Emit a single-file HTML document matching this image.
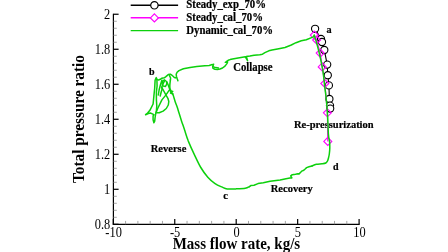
<!DOCTYPE html>
<html><head><meta charset="utf-8"><style>
html,body{margin:0;padding:0;background:#fff;}
body{width:448px;height:252px;overflow:hidden;}
svg{display:block;}
text{font-family:"Liberation Serif","Times New Roman",serif;}
.tl{font-size:12.4px;fill:#000;}
.at{font-size:15px;font-weight:bold;fill:#000;}
.an{font-size:11px;font-weight:bold;fill:#000;stroke:#000;stroke-width:0.2px;}
.lg{font-size:10.8px;font-weight:bold;fill:#000;stroke:#000;stroke-width:0.2px;}
</style></head><body>
<svg width="448" height="252" viewBox="0 0 448 252">
<line x1="113.4" y1="13.7" x2="113.4" y2="224.9" stroke="#000" stroke-width="1.2"/>
<line x1="112.8" y1="224.3" x2="359.7" y2="224.3" stroke="#000" stroke-width="1.2"/>
<line x1="113.4" y1="224.30" x2="118.60" y2="224.30" stroke="#000" stroke-width="1.2"/>
<line x1="113.4" y1="217.30" x2="116.80" y2="217.30" stroke="#888" stroke-width="0.75"/>
<line x1="113.4" y1="210.29" x2="116.80" y2="210.29" stroke="#888" stroke-width="0.75"/>
<line x1="113.4" y1="203.29" x2="116.80" y2="203.29" stroke="#888" stroke-width="0.75"/>
<line x1="113.4" y1="196.29" x2="116.80" y2="196.29" stroke="#888" stroke-width="0.75"/>
<line x1="113.4" y1="189.29" x2="118.60" y2="189.29" stroke="#000" stroke-width="1.2"/>
<line x1="113.4" y1="182.29" x2="116.80" y2="182.29" stroke="#888" stroke-width="0.75"/>
<line x1="113.4" y1="175.29" x2="116.80" y2="175.29" stroke="#888" stroke-width="0.75"/>
<line x1="113.4" y1="168.29" x2="116.80" y2="168.29" stroke="#888" stroke-width="0.75"/>
<line x1="113.4" y1="161.28" x2="116.80" y2="161.28" stroke="#888" stroke-width="0.75"/>
<line x1="113.4" y1="154.28" x2="118.60" y2="154.28" stroke="#000" stroke-width="1.2"/>
<line x1="113.4" y1="147.28" x2="116.80" y2="147.28" stroke="#888" stroke-width="0.75"/>
<line x1="113.4" y1="140.28" x2="116.80" y2="140.28" stroke="#888" stroke-width="0.75"/>
<line x1="113.4" y1="133.28" x2="116.80" y2="133.28" stroke="#888" stroke-width="0.75"/>
<line x1="113.4" y1="126.28" x2="116.80" y2="126.28" stroke="#888" stroke-width="0.75"/>
<line x1="113.4" y1="119.27" x2="118.60" y2="119.27" stroke="#000" stroke-width="1.2"/>
<line x1="113.4" y1="112.27" x2="116.80" y2="112.27" stroke="#888" stroke-width="0.75"/>
<line x1="113.4" y1="105.27" x2="116.80" y2="105.27" stroke="#888" stroke-width="0.75"/>
<line x1="113.4" y1="98.27" x2="116.80" y2="98.27" stroke="#888" stroke-width="0.75"/>
<line x1="113.4" y1="91.27" x2="116.80" y2="91.27" stroke="#888" stroke-width="0.75"/>
<line x1="113.4" y1="84.27" x2="118.60" y2="84.27" stroke="#000" stroke-width="1.2"/>
<line x1="113.4" y1="77.26" x2="116.80" y2="77.26" stroke="#888" stroke-width="0.75"/>
<line x1="113.4" y1="70.26" x2="116.80" y2="70.26" stroke="#888" stroke-width="0.75"/>
<line x1="113.4" y1="63.26" x2="116.80" y2="63.26" stroke="#888" stroke-width="0.75"/>
<line x1="113.4" y1="56.26" x2="116.80" y2="56.26" stroke="#888" stroke-width="0.75"/>
<line x1="113.4" y1="49.26" x2="118.60" y2="49.26" stroke="#000" stroke-width="1.2"/>
<line x1="113.4" y1="42.26" x2="116.80" y2="42.26" stroke="#888" stroke-width="0.75"/>
<line x1="113.4" y1="35.25" x2="116.80" y2="35.25" stroke="#888" stroke-width="0.75"/>
<line x1="113.4" y1="28.25" x2="116.80" y2="28.25" stroke="#888" stroke-width="0.75"/>
<line x1="113.4" y1="21.25" x2="116.80" y2="21.25" stroke="#888" stroke-width="0.75"/>
<line x1="113.4" y1="14.25" x2="118.60" y2="14.25" stroke="#000" stroke-width="1.2"/>
<line x1="113.30" y1="224.3" x2="113.30" y2="219.10" stroke="#000" stroke-width="1.2"/>
<line x1="125.59" y1="224.3" x2="125.59" y2="220.90" stroke="#888" stroke-width="0.75"/>
<line x1="137.88" y1="224.3" x2="137.88" y2="220.90" stroke="#888" stroke-width="0.75"/>
<line x1="150.17" y1="224.3" x2="150.17" y2="220.90" stroke="#888" stroke-width="0.75"/>
<line x1="162.46" y1="224.3" x2="162.46" y2="220.90" stroke="#888" stroke-width="0.75"/>
<line x1="174.75" y1="224.3" x2="174.75" y2="219.10" stroke="#000" stroke-width="1.2"/>
<line x1="187.04" y1="224.3" x2="187.04" y2="220.90" stroke="#888" stroke-width="0.75"/>
<line x1="199.33" y1="224.3" x2="199.33" y2="220.90" stroke="#888" stroke-width="0.75"/>
<line x1="211.62" y1="224.3" x2="211.62" y2="220.90" stroke="#888" stroke-width="0.75"/>
<line x1="223.91" y1="224.3" x2="223.91" y2="220.90" stroke="#888" stroke-width="0.75"/>
<line x1="236.20" y1="224.3" x2="236.20" y2="219.10" stroke="#000" stroke-width="1.2"/>
<line x1="248.49" y1="224.3" x2="248.49" y2="220.90" stroke="#888" stroke-width="0.75"/>
<line x1="260.78" y1="224.3" x2="260.78" y2="220.90" stroke="#888" stroke-width="0.75"/>
<line x1="273.07" y1="224.3" x2="273.07" y2="220.90" stroke="#888" stroke-width="0.75"/>
<line x1="285.36" y1="224.3" x2="285.36" y2="220.90" stroke="#888" stroke-width="0.75"/>
<line x1="297.65" y1="224.3" x2="297.65" y2="219.10" stroke="#000" stroke-width="1.2"/>
<line x1="309.94" y1="224.3" x2="309.94" y2="220.90" stroke="#888" stroke-width="0.75"/>
<line x1="322.23" y1="224.3" x2="322.23" y2="220.90" stroke="#888" stroke-width="0.75"/>
<line x1="334.52" y1="224.3" x2="334.52" y2="220.90" stroke="#888" stroke-width="0.75"/>
<line x1="346.81" y1="224.3" x2="346.81" y2="220.90" stroke="#888" stroke-width="0.75"/>
<line x1="359.10" y1="224.3" x2="359.10" y2="219.10" stroke="#000" stroke-width="1.2"/>
<text transform="translate(110.3,18.55) scale(1,1.12)" text-anchor="end" class="tl">2</text>
<text transform="translate(110.3,53.56) scale(1,1.12)" text-anchor="end" class="tl">1.8</text>
<text transform="translate(110.3,88.57) scale(1,1.12)" text-anchor="end" class="tl">1.6</text>
<text transform="translate(110.3,123.57) scale(1,1.12)" text-anchor="end" class="tl">1.4</text>
<text transform="translate(110.3,158.58) scale(1,1.12)" text-anchor="end" class="tl">1.2</text>
<text transform="translate(110.3,193.59) scale(1,1.12)" text-anchor="end" class="tl">1</text>
<text transform="translate(110.3,228.60) scale(1,1.12)" text-anchor="end" class="tl">0.8</text>
<text transform="translate(113.60,236.6) scale(1,1.12)" text-anchor="middle" class="tl">-10</text>
<text transform="translate(175.05,236.6) scale(1,1.12)" text-anchor="middle" class="tl">-5</text>
<text transform="translate(236.50,236.6) scale(1,1.12)" text-anchor="middle" class="tl">0</text>
<text transform="translate(297.95,236.6) scale(1,1.12)" text-anchor="middle" class="tl">5</text>
<text transform="translate(359.40,236.6) scale(1,1.12)" text-anchor="middle" class="tl">10</text>
<text transform="translate(236.4,248.9) scale(1,1.08)" text-anchor="middle" class="at">Mass flow rate, kg/s</text>
<text transform="translate(83.7,119.0) rotate(-90) scale(1,1.07)" text-anchor="middle" class="at" style="font-size:15.3px">Total pressure ratio</text>
<text transform="translate(150.8,152.0) scale(1,1.07)" class="an" style="font-size:10.5px">Reverse</text>
<text transform="translate(233.3,70.6) scale(1,1.07)" class="an" style="font-size:10.7px">Collapse</text>
<text transform="translate(270.8,191.8) scale(1,1.07)" class="an" style="font-size:10.5px">Recovery</text>
<text transform="translate(294.0,128.4) scale(1,1.07)" class="an" style="font-size:10.5px">Re-pressurization</text>
<text transform="translate(149.0,74.8) scale(1,1.07)" class="an" style="font-size:10px">b</text>
<text transform="translate(326.6,32.7) scale(1,1.07)" class="an" style="font-size:10.2px">a</text>
<text transform="translate(223.2,199.1) scale(1,1.07)" class="an" style="font-size:10.4px">c</text>
<text transform="translate(333.0,170.0) scale(1,1.07)" class="an" style="font-size:10px">d</text>
<polyline points="315.1,28.8 321.0,39.0 322.0,42.0 324.3,50.0 327.2,64.6 327.8,75.2 328.9,85.4 329.4,99.0 330.0,105.6 330.2,108.6" fill="none" stroke="#000" stroke-width="1.1"/>
<circle cx="315.1" cy="28.8" r="3.6" fill="#fff" stroke="#000" stroke-width="1.1"/>
<circle cx="321.0" cy="39.0" r="3.6" fill="#fff" stroke="#000" stroke-width="1.1"/>
<circle cx="322.0" cy="42.0" r="3.6" fill="#fff" stroke="#000" stroke-width="1.1"/>
<circle cx="324.3" cy="50.0" r="3.6" fill="#fff" stroke="#000" stroke-width="1.1"/>
<circle cx="327.2" cy="64.6" r="3.6" fill="#fff" stroke="#000" stroke-width="1.1"/>
<circle cx="327.8" cy="75.2" r="3.6" fill="#fff" stroke="#000" stroke-width="1.1"/>
<circle cx="328.9" cy="85.4" r="3.6" fill="#fff" stroke="#000" stroke-width="1.1"/>
<circle cx="329.4" cy="99.0" r="3.6" fill="#fff" stroke="#000" stroke-width="1.1"/>
<circle cx="330.0" cy="105.6" r="3.6" fill="#fff" stroke="#000" stroke-width="1.1"/>
<circle cx="330.2" cy="108.6" r="3.6" fill="#fff" stroke="#000" stroke-width="1.1"/>
<polyline points="314.3,35.1 316.6,40.0 320.2,53.1 322.2,66.9 324.8,83.5 327.4,112.8 327.8,141.4" fill="none" stroke="#ff00ff" stroke-width="1.2"/>
<polygon points="314.3,31.1 318.3,35.1 314.3,39.1 310.3,35.1" fill="none" stroke="#ff00ff" stroke-width="1.1"/>
<polygon points="316.6,36.0 320.6,40.0 316.6,44.0 312.6,40.0" fill="none" stroke="#ff00ff" stroke-width="1.1"/>
<polygon points="320.2,49.1 324.2,53.1 320.2,57.1 316.2,53.1" fill="none" stroke="#ff00ff" stroke-width="1.1"/>
<polygon points="322.2,62.9 326.2,66.9 322.2,70.9 318.2,66.9" fill="none" stroke="#ff00ff" stroke-width="1.1"/>
<polygon points="324.8,79.5 328.8,83.5 324.8,87.5 320.8,83.5" fill="none" stroke="#ff00ff" stroke-width="1.1"/>
<polygon points="327.4,108.8 331.4,112.8 327.4,116.8 323.4,112.8" fill="none" stroke="#ff00ff" stroke-width="1.1"/>
<polygon points="327.8,137.4 331.8,141.4 327.8,145.4 323.8,141.4" fill="none" stroke="#ff00ff" stroke-width="1.1"/>
<path d="M312.0,166.0 C312.7,165.7 314.7,164.7 316.4,164.3 C318.1,163.9 320.4,164.0 322.0,163.8 C323.6,163.6 324.9,163.5 325.8,163.0 C326.7,162.5 327.0,161.9 327.5,161.0 C328.0,160.1 328.3,158.7 328.6,157.5 C328.9,156.3 329.1,155.6 329.3,154.0 C329.5,152.4 329.8,150.0 329.8,148.0 C329.9,146.0 329.8,144.3 329.6,142.0 C329.4,139.7 328.7,138.3 328.4,134.0 C328.1,129.7 327.9,121.0 327.6,116.0 C327.3,111.0 327.0,107.5 326.7,104.0 C326.4,100.5 326.1,98.0 325.8,95.0 C325.5,92.0 324.9,88.7 324.6,86.0 C324.3,83.3 324.2,81.7 323.9,79.0 C323.6,76.3 323.4,73.6 322.7,69.7 C322.0,65.8 320.9,60.1 319.9,55.8 C318.9,51.5 317.8,47.3 316.9,43.9 C316.0,40.5 314.7,36.7 314.3,35.2" fill="none" stroke="#0cd00c" stroke-width="1.5" stroke-linejoin="round" stroke-linecap="round"/>
<polyline points="314.3,35.2 313.4,36.9 306.3,39.7 301.3,40.8 296.0,42.7 291.3,45.0 285.0,47.5 278.8,48.8 272.0,50.1 268.8,50.8 264.9,52.7 262.5,54.2 259.8,54.7 254.1,55.2 249.9,56.0 246.3,56.6 247.6,60.7 245.3,56.8 238.1,57.9 232.5,59.0 230.1,59.6 228.2,60.3 226.3,61.7 225.3,62.3 226.3,62.0 227.6,62.0 226.9,63.6 225.0,66.1 222.5,68.0 220.0,69.0 217.4,69.4 214.9,69.3 213.0,68.4 212.7,66.8 213.6,64.2 212.3,64.6 209.2,65.4 204.8,65.7 196.8,66.5 190.1,67.4 183.4,68.8 179.0,70.6 177.1,72.3 176.2,74.3 176.5,76.7 177.3,79.1 177.9,80.7" fill="none" stroke="#0cd00c" stroke-width="1.5" stroke-linejoin="round" stroke-linecap="round"/>
<polyline points="212.9,66.6 215.5,67.6 218.5,68.1" fill="none" stroke="#0cd00c" stroke-width="1.5" stroke-linejoin="round" stroke-linecap="round"/>
<polyline points="176.4,77.3 175.5,77.9 174.3,77.5 173.1,76.3 171.9,75.2 170.3,74.2 168.3,74.6 165.9,76.6 164.3,77.8 161.9,78.2 160.3,79.3 158.5,80.0 157.1,79.6 156.2,77.6 155.1,80.3 154.7,88.0 153.9,95.9 153.1,104.0 149.9,110.3 147.6,113.1 145.6,114.7 148.3,113.5 150.7,113.1 152.3,113.9 153.9,114.7 153.1,116.0 153.1,119.9 153.9,122.7 154.7,121.1 155.1,117.5 155.9,112.7 157.9,108.0 161.9,99.9 165.8,95.1 169.1,90.4 170.5,89.5" fill="none" stroke="#0cd00c" stroke-width="1.5" stroke-linejoin="round" stroke-linecap="round"/>
<polyline points="156.9,79.6 157.1,86.0 156.4,92.0 156.4,99.9 156.8,106.0 156.2,112.7 159.2,112.7 163.1,111.1 166.3,108.5 168.3,105.0 168.8,101.5 167.9,98.3 165.6,94.3 163.5,90.5 161.6,87.5 163.2,83.5 164.8,80.3" fill="none" stroke="#0cd00c" stroke-width="1.5" stroke-linejoin="round" stroke-linecap="round"/>
<polyline points="161.9,80.3 160.4,85.0 159.1,90.0 158.3,95.0" fill="none" stroke="#0cd00c" stroke-width="1.5" stroke-linejoin="round" stroke-linecap="round"/>
<polyline points="164.5,80.0 166.5,81.5 166.8,84.0 165.5,86.4 163.0,86.0 162.0,83.5 162.8,81.0 164.5,80.0" fill="none" stroke="#0cd00c" stroke-width="1.5" stroke-linejoin="round" stroke-linecap="round"/>
<polyline points="162.4,88.0 161.2,92.0 160.2,96.0" fill="none" stroke="#0cd00c" stroke-width="1.5" stroke-linejoin="round" stroke-linecap="round"/>
<polyline points="169.5,75.6 170.6,78.0 170.4,80.0" fill="none" stroke="#0cd00c" stroke-width="1.5" stroke-linejoin="round" stroke-linecap="round"/>
<polyline points="166.8,81.8 168.2,85.0 169.1,87.5 170.2,90.5 171.5,93.0" fill="none" stroke="#0cd00c" stroke-width="1.5" stroke-linejoin="round" stroke-linecap="round"/>
<polyline points="170.0,90.5 172.7,91.5 170.5,93.0 173.0,94.0" fill="none" stroke="#0cd00c" stroke-width="1.5" stroke-linejoin="round" stroke-linecap="round"/>
<polyline points="249.5,186.6 250.8,185.6 254.0,185.2 258.0,183.6 263.3,182.7 270.1,181.2 280.1,179.9 286.0,178.7 289.9,178.1 291.9,177.9 290.7,175.9 292.3,174.7 295.5,174.2 297.9,173.7 299.1,173.9 300.7,172.3 301.8,171.1 303.8,170.3 305.4,168.8 306.6,167.6 309.0,166.8 312.0,166.0" fill="none" stroke="#0cd00c" stroke-width="1.5" stroke-linejoin="round" stroke-linecap="round"/>
<path d="M170.4,80.0 C170.3,81.0 169.8,84.2 169.8,86.0 C169.8,87.8 170.0,89.5 170.4,90.7 C170.8,91.9 171.6,92.3 172.1,93.1 C172.6,93.9 172.8,94.1 173.3,95.5 C173.8,96.9 174.5,99.6 175.1,101.4 C175.7,103.2 176.4,104.8 176.9,106.2 C177.4,107.6 177.3,107.5 178.1,110.0 C178.9,112.5 180.4,117.6 181.5,120.9 C182.6,124.2 183.5,126.6 184.6,130.0 C185.7,133.4 186.8,137.2 188.3,141.1 C189.9,145.0 191.8,149.2 193.9,153.6 C196.0,158.0 198.5,163.6 200.8,167.5 C203.1,171.4 205.5,174.6 207.8,177.2 C210.1,179.8 212.4,181.7 214.7,183.3 C217.0,184.9 219.6,186.0 221.7,186.9 C223.8,187.8 224.9,188.6 227.2,188.9 C229.5,189.2 232.6,189.0 235.6,188.9 C238.6,188.8 243.0,188.7 245.3,188.3 C247.6,187.9 248.8,186.9 249.5,186.6" fill="none" stroke="#0cd00c" stroke-width="1.5" stroke-linejoin="round" stroke-linecap="round"/>
<line x1="130.7" y1="5.2" x2="178.1" y2="5.2" stroke="#000" stroke-width="1.4"/>
<circle cx="154.4" cy="5.3" r="3.7" fill="#fff" stroke="#000" stroke-width="1.2"/>
<line x1="130.7" y1="17.8" x2="178.1" y2="17.8" stroke="#ff00ff" stroke-width="1.4"/>
<polygon points="154.4,13.9 158.4,17.9 154.4,21.9 150.4,17.9" fill="#fff" stroke="#ff00ff" stroke-width="1.2"/>
<line x1="130.7" y1="30.6" x2="178.1" y2="30.6" stroke="#0cd00c" stroke-width="1.4"/>
<text transform="translate(186.3,8.3) scale(1,1.06)" class="lg">Steady_exp_70%</text>
<text transform="translate(186.3,21.0) scale(1,1.06)" class="lg">Steady_cal_70%</text>
<text transform="translate(186.3,33.8) scale(1,1.06)" class="lg">Dynamic_cal_70%</text>
</svg>
</body></html>
